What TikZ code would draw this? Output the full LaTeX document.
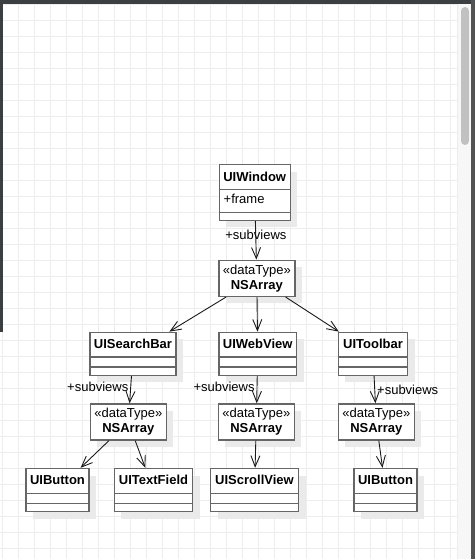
\documentclass[tikz,border=0pt]{standalone}
\usepackage{fontspec}
\setmainfont{Liberation Sans}
\usetikzlibrary{arrows.meta, shadows}

\definecolor{boxgray}{HTML}{666666}
\definecolor{shadowgray}{HTML}{EAEAEA}
\definecolor{arrowgray}{HTML}{1A1A1A}
\definecolor{gridgray}{HTML}{EDEDED}
\definecolor{framegray}{HTML}{3C3F41}
\definecolor{trackgray}{HTML}{F7F7F7}
\definecolor{thumbgray}{HTML}{C1C1C1}

\begin{document}
\begin{tikzpicture}[
  x=1pt, y=-1pt,
  every node/.style={font=\fontsize{13}{15}\selectfont},
  divider/.style={draw=boxgray, line width=1.4pt},
  umlbox/.style={draw=boxgray, line width=1.4pt, fill=white,
    drop shadow={shadow xshift=7pt, shadow yshift=-7pt, fill=shadowgray, opacity=1}},
  classbox/.style={umlbox, minimum height=43pt, inner ysep=2pt, inner xsep=4pt,
    text height=9.5pt, text depth=19.7pt,
    font=\fontsize{13}{15}\selectfont\bfseries},
  typebox/.style={umlbox, align=center, minimum width=76pt, minimum height=36pt},
  assoc/.style={draw=arrowgray, line width=0.9pt,
    -{Straight Barb[length=11pt, width=9pt]}},
  lbl/.style={inner xsep=2pt, inner ysep=0pt}
]
  \useasboundingbox (0,0) rectangle (475,559);
  % window background, grid and scrollbar
  \fill[white] (0,0) rectangle (475,559);
  \foreach \gx in {0,...,28}
    \draw[gridgray, line width=0.8pt] (2.3+16*\gx,3.7) -- (2.3+16*\gx,559);
  \foreach \gy in {0,...,34}
    \draw[gridgray, line width=0.8pt] (0,4.3+16*\gy) -- (457,4.3+16*\gy);
  \fill[trackgray] (457,3.7) rectangle (471,559);
  \draw[gridgray, line width=0.8pt] (457,3.7) -- (457,559);
  \fill[thumbgray, rounded corners=4pt] (461,7) rectangle (469,145);
  \fill[framegray] (0,0) rectangle (475,3.7);
  \fill[framegray] (0,0) rectangle (2.5,331.7);
  \fill[framegray!90] (471,0) rectangle (475,559);

  % classes
  \node[classbox, minimum width=71pt, minimum height=55.6pt, text depth=32.5pt]
    (win) at (254.7,192.5) {UIWindow};
  \node[anchor=base west, inner sep=0pt] (frame)
    at ([xshift=5pt, yshift=-39.5pt]win.north west) {+frame};
  \node[typebox] (arr) at (256.8,278.3) {«dataType»\\\textbf{NSArray}};

  \node[classbox, minimum width=85pt] (sbar) at (133,353.8) {UISearchBar};
  \node[classbox, minimum width=77.5pt] (wview) at (257.7,353.8) {UIWebView};
  \node[classbox, minimum width=69.5pt] (tbar) at (373,353.8) {UIToolbar};

  \node[typebox] (arrA) at (128.3,422) {«dataType»\\\textbf{NSArray}};
  \node[typebox] (arrB) at (256.3,422) {«dataType»\\\textbf{NSArray}};
  \node[typebox] (arrC) at (376.3,422) {«dataType»\\\textbf{NSArray}};

  \node[classbox, minimum width=62pt] (btnA) at (57.5,490) {UIButton};
  \node[classbox, minimum width=78.5pt] (tfield) at (153.5,490) {UITextField};
  \node[classbox, minimum width=88pt] (sview) at (254.5,490) {UIScrollView};
  \node[classbox, minimum width=62pt] (btnB) at (385.5,490) {UIButton};

  % compartments
  \draw[divider] ([yshift=-25.5pt]win.north west) -- ([yshift=-25.5pt]win.north east)
    ([yshift=-48.2pt]win.north west) -- ([yshift=-48.2pt]win.north east);
  \foreach \c in {sbar, wview, tbar, btnA, tfield, sview, btnB}
    \draw[divider] ([yshift=-25.5pt]\c.north west) -- ([yshift=-25.5pt]\c.north east)
      ([yshift=-35.5pt]\c.north west) -- ([yshift=-35.5pt]\c.north east);

  % associations
  \draw[assoc] (win) -- node[lbl, above] {+subviews} (arr);
  \draw[assoc] (arr) -- (sbar);
  \draw[assoc] (arr) -- (wview);
  \draw[assoc] (arr) -- (tbar);
  \draw[assoc] (sbar) -- node[lbl, left, pos=0.4] {+subviews} (arrA);
  \draw[assoc] (wview) -- node[lbl, left, pos=0.4] {+subviews} (arrB);
  \draw[assoc] (tbar) -- node[lbl, right] {+subviews} (arrC);
  \draw[assoc] (arrA) -- (btnA);
  \draw[assoc] (arrA) -- (tfield);
  \draw[assoc] (arrB) -- (sview);
  \draw[assoc] (arrC) -- (btnB);
\end{tikzpicture}
\end{document}
